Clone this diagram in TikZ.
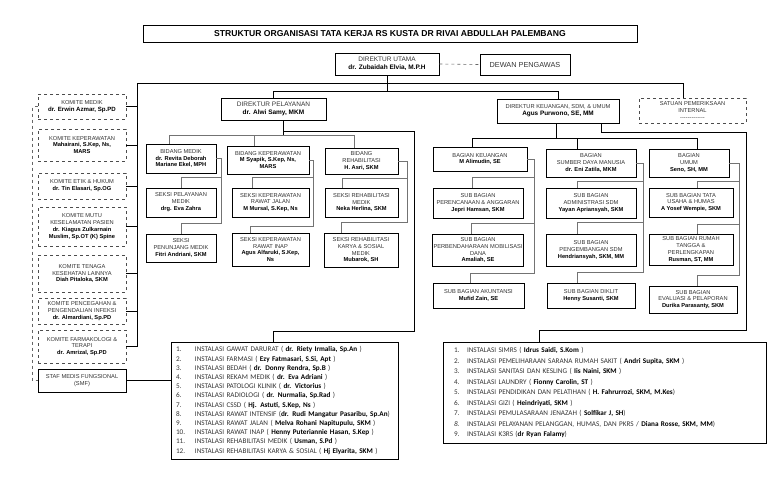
\documentclass[tikz,border=0pt]{standalone}
\usepackage{fontspec}
\setmainfont{Liberation Sans}
\newfontfamily\listfont{Carlito}
\usetikzlibrary{calc}
\newcommand{\who}[1]{\textbf{\textcolor{black}{#1}}}
\newcommand{\instL}[2]{\makebox[19pt][l]{#1}\mbox{#2}}
\newcommand{\instR}[2]{\makebox[13pt][l]{#1}\mbox{#2}}
\tikzset{
  unit/.style={draw=black,line width=0.9pt,fill=white,align=center,inner sep=1pt,
               text=black!80,font=\fontsize{5.7}{6.9}\selectfont},
  komite/.style={unit,dashed,draw=black!70,line width=0.7pt},
  director/.style={unit,font=\fontsize{6.5}{8}\selectfont},
  listbox/.style={draw=black,line width=0.9pt,align=left,text=black!80,
                  font=\listfont\fontsize{7.2}{9.2}\selectfont},
  link/.style={black,line width=0.8pt},
  sublink/.style={black!55,line width=0.7pt},
  guide/.style={black!60,line width=0.6pt,dashed},
}

\begin{document}
\begin{tikzpicture}[x=1pt,y=-1pt]
  \path[use as bounding box] (0,0) rectangle (768,503);
  \node[unit,minimum width=494pt,minimum height=17pt,text=black,
        font=\fontsize{8.6}{10}\selectfont\bfseries] (title) at (390,33.5)
    {STRUKTUR ORGANISASI TATA KERJA RS KUSTA DR RIVAI ABDULLAH PALEMBANG};

  % pimpinan
  \node[director,minimum width=104pt,minimum height=22pt] (du) at (387,64)
    {DIREKTUR UTAMA\\\who{dr. Zubaidah Elvia, M.P.H}};
  \node[director,minimum width=90pt,minimum height=21pt,font=\fontsize{7.3}{8}\selectfont] (dewan) at (525,64.5)
    {DEWAN PENGAWAS};
  \node[director,minimum width=105pt,minimum height=22pt] (dpel) at (273.5,109)
    {DIREKTUR PELAYANAN\\\who{dr. Alwi Samy, MKM}};
  \node[unit,minimum width=122pt,minimum height=24pt] (dkeu) at (558,111)
    {DIREKTUR KEUANGAN, SDM, \& UMUM\\{\fontsize{6.4}{8}\selectfont\who{Agus Purwono, SE, MM}}};
  \node[komite,minimum width=107pt,minimum height=25pt] (spi) at (692.5,110.5)
    {SATUAN PEMERIKSAAN\\INTERNAL\\-{}-{}-{}-{}-{}-{}-{}-{}-{}-{}-{}-{}-};

  % komite
  \node[komite,minimum width=88pt,minimum height=25pt] (kmed) at (82,106.5)
    {KOMITE MEDIK\\{\fontsize{6.1}{7}\selectfont\who{dr. Erwin Azmar, Sp.PD}}};
  \node[komite,minimum width=88pt,minimum height=32pt] (kkep) at (82,145)
    {KOMITE KEPERAWATAN\\\who{Mahairani, S.Kep, Ns,}\\\who{MARS}};
  \node[komite,minimum width=88pt,minimum height=26pt] (ketik) at (82,186)
    {KOMITE ETIK \& HUKUM\\\who{dr. Tin Elasari, Sp.OG}};
  \node[komite,minimum width=88pt,minimum height=39pt] (kmutu) at (82,226.5)
    {KOMITE MUTU\\KESELAMATAN PASIEN\\\who{dr. Kiagus Zulkarnain}\\\who{Muslim, Sp.OT (K) Spine}};
  \node[komite,minimum width=88pt,minimum height=37pt] (ktkl) at (82,273.5)
    {KOMITE TENAGA\\KESEHATAN LAINNYA\\\who{Diah Pitaloka, SKM}};
  \node[komite,minimum width=88pt,minimum height=26pt] (kppi) at (82,311)
    {KOMITE PENCEGAHAN \&\\PENGENDALIAN INFEKSI\\\who{dr. Almardiani, Sp.PD}};
  \node[komite,minimum width=88pt,minimum height=33pt] (kfar) at (82,346.5)
    {KOMITE FARMAKOLOGI \&\\TERAPI\\\who{dr. Amrizal, Sp.PD}};
  \node[unit,minimum width=88pt,minimum height=23pt] (smf) at (82,380.5)
    {STAF MEDIS FUNGSIONAL\\(SMF)};

  % pelayanan
  \node[unit,minimum width=70pt,minimum height=29pt] (bmed) at (181,158.5)
    {BIDANG MEDIK\\\who{dr. Revita Deborah}\\\who{Mariane Ekel, MPH}};
  \node[unit,minimum width=70pt,minimum height=29pt] (spm) at (181,202.5)
    {SEKSI PELAYANAN\\MEDIK\\\who{drg. Eva Zahra}};
  \node[unit,minimum width=70pt,minimum height=28pt] (spen) at (181,248)
    {SEKSI\\PENUNJANG MEDIK\\\who{Fitri Andriani, SKM}};
  \node[unit,minimum width=82pt,minimum height=28pt] (bkep) at (268,160)
    {BIDANG KEPERAWATAN\\\who{M Syapik, S.Kep, Ns,}\\\who{MARS}};
  \node[unit,minimum width=77pt,minimum height=29pt] (skrj) at (270.5,202.5)
    {SEKSI KEPERAWATAN\\RAWAT JALAN\\\who{M Mursal, S.Kep, Ns}};
  \node[unit,minimum width=77pt,minimum height=33pt] (skri) at (270.5,249.5)
    {SEKSI KEPERAWATAN\\RAWAT INAP\\\who{Agus Alfaruki, S.Kep,}\\\who{Ns}};
  \node[unit,minimum width=73pt,minimum height=26pt] (brehab) at (361.5,161)
    {BIDANG\\REHABILITASI\\\who{H. Asri, SKM}};
  \node[unit,minimum width=73pt,minimum height=29pt] (srm) at (361.5,202.5)
    {SEKSI REHABILITASI\\MEDIK\\\who{Neka Herlina, SKM}};
  \node[unit,minimum width=74pt,minimum height=34pt] (srks) at (361,250)
    {SEKSI REHABILITASI\\KARYA \& SOSIAL\\MEDIK\\\who{Mubarok, SH}};

  % keuangan, sdm, umum
  \node[unit,minimum width=94pt,minimum height=24pt] (bkeu) at (480,159)
    {BAGIAN KEUANGAN\\\who{M Alimudin, SE}};
  \node[unit,minimum width=90pt,minimum height=30pt] (sbpa) at (478,203)
    {SUB BAGIAN\\PERENCANAAN \& ANGGARAN\\\who{Jepri Hamsan, SKM}};
  \node[unit,minimum width=90pt,minimum height=32pt] (sbpm) at (478,250)
    {SUB BAGIAN\\PERBENDAHARAAN MOBILISASI\\DANA\\\who{Amaliah, SE}};
  \node[unit,minimum width=91pt,minimum height=25pt] (sbak) at (478.5,295.5)
    {SUB BAGIAN AKUNTANSI\\\who{Mufid Zain, SE}};
  \node[unit,minimum width=90pt,minimum height=28pt] (bsdm) at (591,163)
    {BAGIAN\\SUMBER DAYA MANUSIA\\\who{dr. Eni Zatila, MKM}};
  \node[unit,minimum width=90pt,minimum height=30pt] (sbas) at (591,203)
    {SUB BAGIAN\\ADMINISTRASI SDM\\\who{Yayan Apriansyah, SKM}};
  \node[unit,minimum width=90pt,minimum height=32pt] (sbps) at (591,250)
    {SUB BAGIAN\\PENGEMBANGAN SDM\\\who{Hendriansyah, SKM, MM}};
  \node[unit,minimum width=88pt,minimum height=25pt] (sbdk) at (591,295.5)
    {SUB BAGIAN DIKLIT\\\who{Henny Susanti, SKM}};
  \node[unit,minimum width=80pt,minimum height=28pt] (bumum) at (689,163)
    {BAGIAN\\UMUM\\\who{Seno, SH, MM}};
  \node[unit,minimum width=84pt,minimum height=29pt] (sbtu) at (691,202.5)
    {SUB BAGIAN TATA\\USAHA \& HUMAS\\\who{A Yosef Wempie, SKM}};
  \node[unit,minimum width=84pt,minimum height=31pt] (sbrt) at (691,249.5)
    {SUB BAGIAN RUMAH\\TANGGA \&\\PERLENGKAPAN\\\who{Rusman, ST, MM}};
  \node[unit,minimum width=88pt,minimum height=27pt] (sbev) at (693,299.5)
    {SUB BAGIAN\\EVALUASI \& PELAPORAN\\\who{Durika Parasanty, SKM}};

  % instalasi
  \node[listbox,minimum width=227pt,minimum height=117pt,text width=217pt,inner xsep=5pt] (instl) at (284.5,400.5)
    {\instL{1.}{INSTALASI GAWAT DARURAT ( \who{dr. Riety Irmalia, Sp.An} )}\\
     \instL{2.}{INSTALASI FARMASI ( \who{Ezy Fatmasari, S.Si, Apt} )}\\
     \instL{3.}{INSTALASI BEDAH ( \who{dr. Donny Rendra, Sp.B} )}\\
     \instL{4.}{INSTALASI REKAM MEDIK ( \who{dr. Eva Adriani} )}\\
     \instL{5.}{INSTALASI PATOLOGI KLINIK ( \who{dr. Victorius} )}\\
     \instL{6.}{INSTALASI RADIOLOGI ( \who{dr. Nurmalia, Sp.Rad} )}\\
     \instL{7.}{INSTALASI CSSD ( \who{Hj. Astuti, S.Kep, Ns} )}\\
     \instL{8.}{INSTALASI RAWAT INTENSIF (\who{dr. Rudi Mangatur Pasaribu, Sp.An})}\\
     \instL{9.}{INSTALASI RAWAT JALAN ( \who{Melva Rohani Napitupulu, SKM} )}\\
     \instL{10.}{INSTALASI RAWAT INAP ( \who{Henny Puteriannie Hasan, S.Kep} )}\\
     \instL{11.}{INSTALASI REHABILITASI MEDIK ( \who{Usman, S.Pd} )}\\
     \instL{12.}{INSTALASI REHABILITASI KARYA \& SOSIAL ( \who{Hj Elyarita, SKM} )}};
  \node[listbox,minimum width=323pt,minimum height=101pt,text width=301pt,inner xsep=11pt,
        font=\listfont\fontsize{7.2}{10.5}\selectfont] (instr) at (604.5,392.5)
    {\instR{1.}{INSTALASI SIMRS ( \who{Idrus Saidi, S.Kom} )}\\
     \instR{2.}{INSTALASI PEMELIHARAAN SARANA RUMAH SAKIT ( \who{Andri Supita, SKM} )}\\
     \instR{3.}{INSTALASI SANITASI DAN KESLING ( \who{Iis Naini, SKM} )}\\
     \instR{4.}{INSTALASI LAUNDRY ( \who{Fionny Carolin, ST} )}\\
     \instR{5.}{INSTALASI PENDIDIKAN DAN PELATIHAN ( \who{H. Fahrurrozi, SKM, M.Kes})}\\
     \instR{6.}{INSTALASI GIZI ( \who{Heindriyati, SKM} )}\\
     \instR{7.}{INSTALASI PEMULASARAAN JENAZAH ( \who{Solfikar J, SH})}\\
     \instR{\textit{8.}}{INSTALASI PELAYANAN PELANGGAN, HUMAS, DAN PKRS / \who{Diana Rosse, SKM, MM})}\\
     \instR{9.}{INSTALASI K3RS (\who{dr Ryan Falamy})}};

  % garis komando
  \draw[guide] (du.east) -- (dewan.west);
  \draw[link] (du.south) -- ++(0,17);
  \draw[link] ([xshift=-0.5pt]dpel.north) -- ++(0,-6) -| (dkeu.north);
  \draw[link] (kfar.east) -- ++(11,0) |- ([xshift=-9pt,yshift=14pt]spi.north) -- ([xshift=-9pt]spi.north);
  \foreach \k in {kmed,kkep,ketik,kmutu,ktkl,kppi}
    \draw[link] (\k.east) -- ++(11,0);
  \draw[guide] (kmed.west) -- ++(-5,0) |- (smf.west);
  \draw[link] (smf.east) -- (smf.east -| instl.west);

  \draw[link] ([xshift=10pt]dpel.south) -- ++(0,16);
  \draw[link] ([xshift=10pt]dpel.south) -- ++(0,11) -| ([xshift=130pt,yshift=10pt]instl.north)
    -| ([xshift=-11.5pt]instl.north);
  \draw[sublink] ([xshift=-12pt]bmed.north) -- ++(0,-8) -| ([xshift=-7pt]brehab.north);
  \draw[sublink] ([xshift=-14pt]bkep.north) -- ++(0,-10);

  \draw[link] ([xshift=-2pt]dkeu.south) -- ++(0,16);
  \draw[link] ([xshift=-8pt]bkeu.north) -- ++(0,-8) -| ([xshift=8pt]bumum.north);
  \draw[link] ([xshift=-14pt]bsdm.north) -- ++(0,-10);
  \draw[link] ([xshift=43pt]dkeu.south) -- ++(0,9) -| ([xshift=141.5pt,yshift=11pt]instr.north)
    -| ([xshift=-65.5pt]instr.north);

  % seksi / sub bagian
  \draw[sublink] (bmed.east) -- ++(5,0) |- ([yshift=10pt]spm.north) -- (spm.north);
  \draw[sublink] (bmed.east) -- ++(5,0) |- ([yshift=10pt]spen.north) -- (spen.north);
  \draw[sublink] (bkep.east) -- ++(4,0) |- ([xshift=-18pt,yshift=10pt]skrj.north) -- ([xshift=-18pt]skrj.north);
  \draw[sublink] (bkep.east) -- ++(4,0) |- ([xshift=-20pt,yshift=6pt]skri.north) -- ([xshift=-20pt]skri.north);
  \draw[sublink] (brehab.east) -- ++(9,0) |- ([xshift=-19.5pt,yshift=9pt]srm.north) -- ([xshift=-19.5pt]srm.north);
  \draw[sublink] (brehab.east) -- ++(9,0) |- ([xshift=-20pt,yshift=10pt]srks.north) -- ([xshift=-20pt]srks.north);
  \draw[sublink] (bkeu.east) -- ++(7,0) |- ([xshift=-6pt,yshift=10pt]sbpa.north) -- ([xshift=-6pt]sbpa.north);
  \draw[sublink] (bkeu.east) -- ++(7,0) |- ([xshift=-7pt,yshift=10pt]sbpm.north) -- ([xshift=-7pt]sbpm.north);
  \draw[sublink] (bkeu.east) -- ++(7,0) |- ([xshift=-8.5pt,yshift=9pt]sbak.north) -- ([xshift=-8.5pt]sbak.north);
  \draw[sublink] (bsdm.east) -- ++(7,0) |- ([xshift=-14pt,yshift=6pt]sbas.north) -- ([xshift=-14pt]sbas.north);
  \draw[sublink] (bsdm.east) -- ++(7,0) |- ([xshift=-14pt,yshift=11pt]sbps.north) -- ([xshift=-14pt]sbps.north);
  \draw[sublink] (bsdm.east) -- ++(7,0) |- ([xshift=-14pt,yshift=10pt]sbdk.north) -- ([xshift=-14pt]sbdk.north);
  \draw[sublink] (bumum.east) -- ++(10,0) |- ([xshift=6pt,yshift=6pt]sbtu.north) -- ([xshift=6pt]sbtu.north);
  \draw[sublink] (bumum.east) -- ++(10,0) |- ([xshift=6pt,yshift=9pt]sbrt.north) -- ([xshift=6pt]sbrt.north);
  \draw[sublink] (bumum.east) -- ++(10,0) |- ([xshift=4pt,yshift=10pt]sbev.north) -- ([xshift=4pt]sbev.north);
\end{tikzpicture}
\end{document}
